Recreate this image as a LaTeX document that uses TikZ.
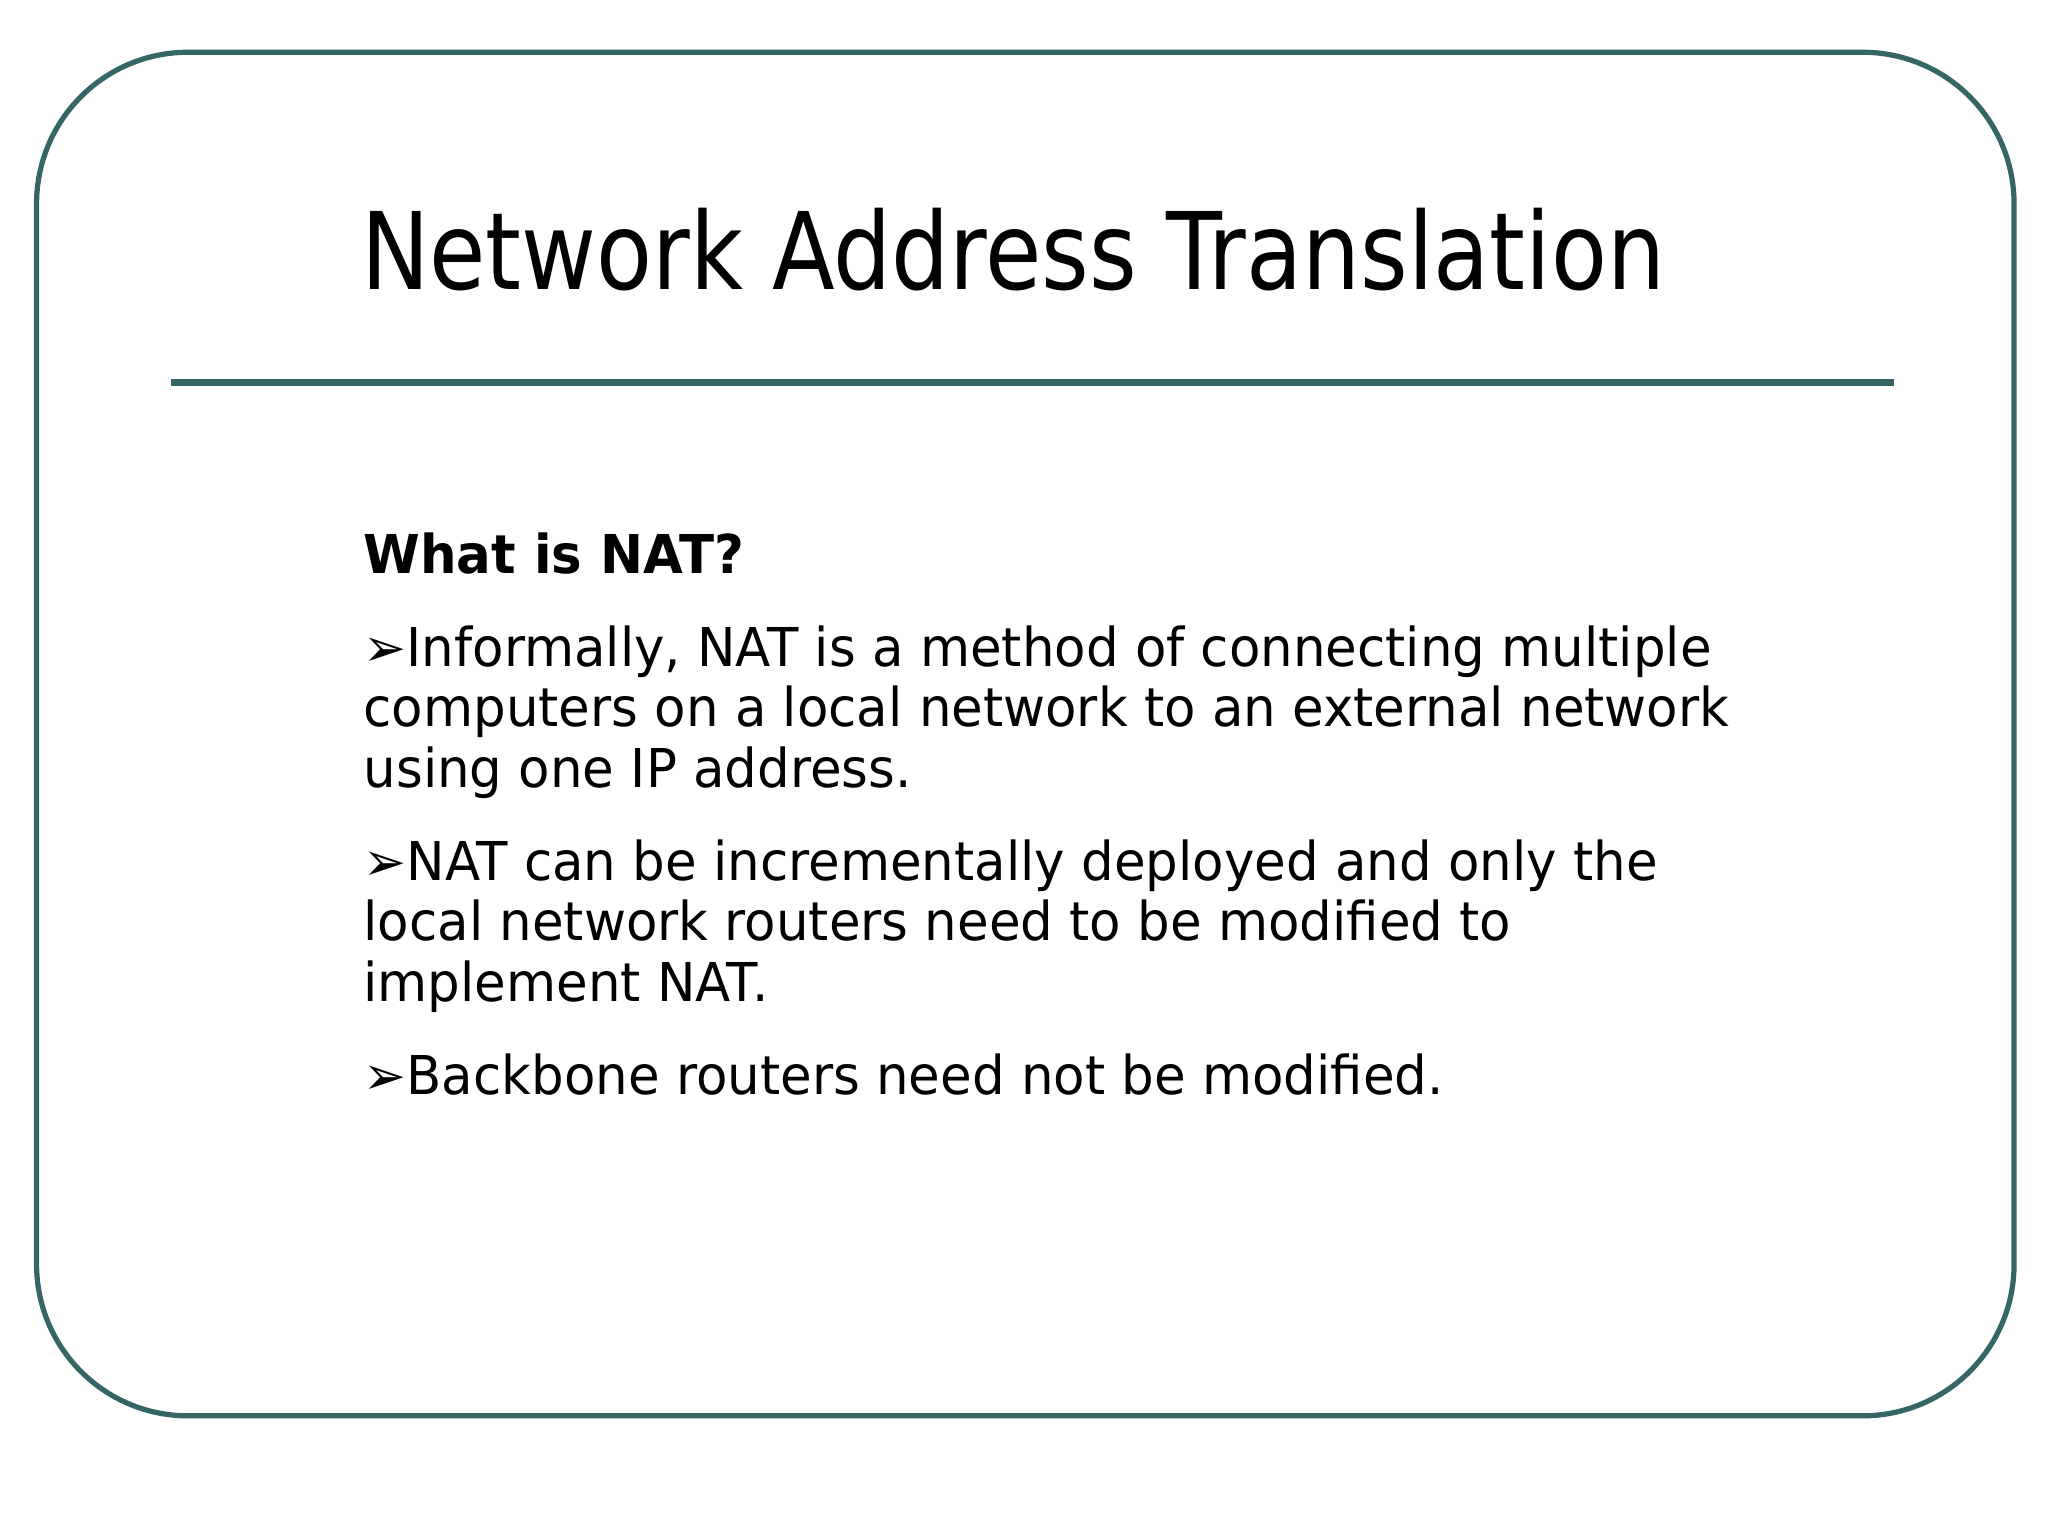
\documentclass[tikz,border=0pt]{standalone}
\usepackage{fontspec}
\setmainfont{DejaVu Sans}
\newfontfamily\titlefont[FakeStretch=0.855]{DejaVu Sans}
\newfontfamily\bodyfont[FakeStretch=0.96]{DejaVu Sans}
\definecolor{teal1}{HTML}{346666}
\begin{document}
\begin{tikzpicture}[x=0.5pt,y=-0.5pt,
  body/.style={anchor=base west,inner sep=0pt,font=\bodyfont\fontsize{20.5pt}{24pt}\selectfont}]
\useasboundingbox (0,0) rectangle (1568,1176);
\draw[teal1,line width=2pt,rounded corners=58pt] (28,40) rectangle (1542,1084);
\node[anchor=base west,inner sep=0pt,font=\titlefont\fontsize{41pt}{48pt}\selectfont] (title) at (276,222) {Network Address Translation};
\coordinate (l1) at (131,293); \coordinate (l2) at (1450,293);
\draw[teal1,line width=2.5pt] (l1) -- (l2);
\node[body,font=\bodyfont\fontsize{20.5pt}{24pt}\selectfont\bfseries] (q) at (278,439) {What is NAT?};
\node[body] (a1) at (278,510) {➢Informally, NAT is a method of connecting multiple};
\node[body] (a2) at (278,556) {computers on a local network to an external network};
\node[body] (a3) at (278,603) {using one IP address.};
\node[body] (b1) at (278,674) {➢NAT can be incrementally deployed and only the};
\node[body] (b2) at (278,720) {local network routers need to be modified to};
\node[body] (b3) at (278,767) {implement NAT.};
\node[body] (c1) at (278,838) {➢Backbone routers need not be modified.};
\end{tikzpicture}
\end{document}
